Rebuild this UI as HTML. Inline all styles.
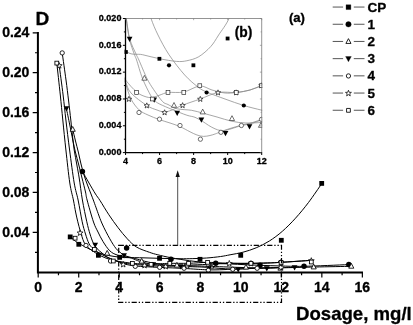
<!DOCTYPE html>
<html><head><meta charset="utf-8"><title>Chart</title>
<style>html,body{margin:0;padding:0;background:#fff}body{width:413px;height:325px;overflow:hidden}</style>
</head><body>
<svg width="413" height="325" viewBox="0 0 413 325" style="display:block">
<rect width="413" height="325" fill="#fff"/>
<g fill="none" stroke="#000" stroke-width="1.0">
<path d="M70.21 236.87 C71.63 237.95 73.99 240.70 78.72 243.36 C83.45 246.02 91.82 250.54 98.57 252.84 C105.33 255.13 112.42 256.32 119.24 257.13 C126.06 257.95 132.75 257.53 139.50 257.73 C146.25 257.93 153.01 258.16 159.76 258.33 C166.51 258.49 174.62 258.68 180.02 258.73 C185.42 258.78 187.79 258.74 192.18 258.63 C196.57 258.51 201.63 258.38 206.36 258.03 C211.09 257.68 216.59 257.07 220.54 256.53 C224.49 255.99 226.31 255.52 230.06 254.80 C233.81 254.07 238.67 253.37 243.03 252.20 C247.38 251.03 251.81 249.67 256.20 247.80 C260.59 245.93 265.01 243.75 269.37 241.00 C273.72 238.25 277.98 235.10 282.33 231.30 C286.69 227.50 291.15 223.00 295.50 218.20 C299.86 213.40 304.08 208.29 308.47 202.50 C312.86 196.71 319.61 186.65 321.84 183.48"/>
<path d="M82.40 171.30 C83.50 173.25 86.82 179.22 89.00 183.00 C91.18 186.78 93.67 191.08 95.50 194.00 C97.33 196.92 97.77 197.03 100.00 200.50 C102.23 203.97 105.88 210.27 108.90 214.80 C111.92 219.33 115.03 223.70 118.10 227.70 C121.17 231.70 124.22 235.57 127.30 238.80 C130.38 242.03 132.89 244.85 136.60 247.10 C140.31 249.35 145.99 251.04 149.53 252.33 C153.08 253.61 154.30 253.90 157.87 254.80 C161.44 255.70 165.66 256.74 170.96 257.73 C176.26 258.72 183.90 259.95 189.65 260.75 C195.40 261.55 201.14 262.11 205.48 262.54 C209.83 262.96 210.36 262.98 215.72 263.28 C221.08 263.58 230.24 263.99 237.62 264.32 C245.00 264.66 252.86 265.02 260.00 265.29 C267.14 265.56 273.21 265.79 280.47 265.96 C287.74 266.13 292.32 266.54 303.61 266.31 C314.89 266.09 340.75 264.90 348.18 264.62"/>
<path d="M72.70 129.40 C73.17 131.33 74.57 137.23 75.50 141.00 C76.43 144.77 77.38 148.17 78.30 152.00 C79.22 155.83 80.05 160.17 81.00 164.00 C81.95 167.83 82.92 171.50 84.00 175.00 C85.08 178.50 86.33 181.83 87.50 185.00 C88.67 188.17 90.03 191.50 91.00 194.00 C91.97 196.50 92.58 198.08 93.30 200.00 C94.02 201.92 93.88 201.67 95.30 205.50 C96.72 209.33 99.38 217.45 101.80 223.00 C104.22 228.55 107.43 234.55 109.80 238.80 C112.17 243.05 114.26 246.24 116.00 248.50 C117.74 250.76 118.87 251.22 120.25 252.37 C121.63 253.52 122.39 254.52 124.30 255.39 C126.20 256.27 129.87 257.10 131.68 257.62 C133.48 258.14 132.95 257.91 135.13 258.52 C137.31 259.12 141.86 260.54 144.77 261.27 C147.69 262.00 149.55 262.34 152.63 262.91 C155.70 263.48 160.37 264.32 163.22 264.69 C166.08 265.07 166.85 264.96 169.77 265.14 C172.69 265.32 176.04 265.64 180.72 265.78 C185.40 265.92 192.74 265.89 197.86 266.00 C202.98 266.11 206.39 266.27 211.43 266.44 C216.47 266.60 222.35 266.80 228.10 267.00 C233.85 267.20 240.24 267.49 245.95 267.64 C251.67 267.79 256.49 267.86 262.38 267.89 C268.27 267.92 272.55 267.97 281.31 267.82 C290.07 267.67 303.30 267.26 314.95 267.01 C326.60 266.76 345.17 266.43 351.22 266.31"/>
<path d="M66.40 108.50 C66.97 111.25 68.73 119.75 69.80 125.00 C70.87 130.25 71.87 135.50 72.80 140.00 C73.73 144.50 74.40 147.83 75.40 152.00 C76.40 156.17 77.70 160.67 78.80 165.00 C79.90 169.33 80.88 173.50 82.00 178.00 C83.12 182.50 84.65 188.33 85.50 192.00 C86.35 195.67 85.77 195.00 87.10 200.00 C88.43 205.00 91.68 216.67 93.50 222.00 C95.32 227.33 96.42 228.75 98.00 232.00 C99.58 235.25 101.03 238.37 103.00 241.50 C104.97 244.63 107.43 248.55 109.80 250.80 C112.17 253.05 113.91 253.86 117.20 255.00 C120.49 256.14 127.00 257.04 129.54 257.62 C132.07 258.21 130.75 257.91 132.39 258.52 C134.04 259.12 136.62 260.39 139.42 261.27 C142.21 262.15 146.82 263.26 149.18 263.80 C151.54 264.35 151.82 264.33 153.58 264.55 C155.35 264.76 156.20 264.84 159.77 265.07 C163.34 265.29 169.61 265.62 175.01 265.90 C180.40 266.18 187.67 266.54 192.15 266.73 C196.63 266.92 198.74 266.89 201.91 267.05 C205.09 267.20 208.50 267.47 211.20 267.67 C213.89 267.87 215.68 268.07 218.10 268.25 C220.52 268.43 223.38 268.63 225.72 268.76 C228.06 268.88 229.96 268.97 232.15 269.01 C234.33 269.05 236.31 269.04 238.81 268.98 C241.31 268.92 244.21 268.78 247.14 268.67 C250.08 268.56 252.54 268.44 256.43 268.31 C260.32 268.19 266.33 268.07 270.48 267.92 C274.62 267.78 277.31 267.50 281.31 267.43 C285.31 267.36 292.29 267.50 294.49 267.51"/>
<path d="M62.20 52.90 C62.83 57.42 64.95 72.15 66.00 80.00 C67.05 87.85 67.70 93.33 68.50 100.00 C69.30 106.67 70.15 114.17 70.80 120.00 C71.45 125.83 71.83 130.00 72.40 135.00 C72.97 140.00 73.45 145.00 74.20 150.00 C74.95 155.00 76.07 160.33 76.90 165.00 C77.73 169.67 78.28 172.17 79.20 178.00 C80.12 183.83 81.13 192.70 82.40 200.00 C83.67 207.30 85.53 216.13 86.80 221.80 C88.07 227.47 88.92 230.47 90.00 234.00 C91.08 237.53 92.13 240.58 93.30 243.00 C94.47 245.42 95.55 246.83 97.00 248.50 C98.45 250.17 100.17 251.50 102.00 253.00 C103.83 254.50 105.12 255.99 108.00 257.50 C110.88 259.01 116.34 260.95 119.30 262.09 C122.25 263.23 123.07 263.68 125.73 264.32 C128.39 264.96 131.88 265.53 135.25 265.93 C138.62 266.33 141.92 266.46 145.96 266.70 C150.01 266.95 155.17 267.19 159.53 267.39 C163.90 267.59 168.06 267.72 172.15 267.89 C176.24 268.07 180.09 268.21 184.06 268.43 C188.02 268.65 192.59 269.00 195.96 269.20 C199.33 269.41 201.61 269.57 204.29 269.68 C206.97 269.79 209.45 269.88 212.03 269.89 C214.61 269.90 217.43 269.82 219.77 269.75 C222.11 269.69 224.01 269.61 226.08 269.52 C228.14 269.43 229.23 269.35 232.15 269.22 C235.06 269.08 239.53 268.87 243.57 268.71 C247.62 268.55 251.95 268.40 256.43 268.25 C260.91 268.10 266.33 267.97 270.48 267.82 C274.62 267.67 279.50 267.44 281.31 267.36"/>
<path d="M59.20 65.50 C59.85 70.42 61.98 85.92 63.10 95.00 C64.22 104.08 64.82 110.83 65.90 120.00 C66.98 129.17 68.22 139.50 69.60 150.00 C70.98 160.50 72.78 174.67 74.20 183.00 C75.62 191.33 76.77 193.53 78.10 200.00 C79.43 206.47 80.97 216.13 82.20 221.80 C83.43 227.47 84.37 230.37 85.50 234.00 C86.63 237.63 87.75 241.18 89.00 243.60 C90.25 246.02 91.17 246.85 93.00 248.50 C94.83 250.15 97.17 251.83 100.00 253.50 C102.83 255.17 106.78 257.12 110.00 258.50 C113.22 259.88 116.68 260.97 119.30 261.79 C121.92 262.61 121.52 262.85 125.73 263.43 C129.93 264.01 139.38 264.87 144.54 265.29 C149.69 265.71 153.19 265.80 156.68 265.96 C160.17 266.12 162.51 266.26 165.49 266.26 C168.46 266.26 170.88 266.13 174.53 265.96 C178.18 265.79 181.79 265.50 187.39 265.23 C192.98 264.96 201.12 264.63 208.10 264.32 C215.08 264.01 222.15 263.52 229.29 263.35 C236.43 263.19 244.61 263.42 250.95 263.35 C257.30 263.29 262.46 263.14 267.38 262.98 C272.30 262.82 273.09 262.83 280.47 262.39 C287.86 261.94 306.50 260.67 311.71 260.32"/>
<path d="M56.80 63.10 C57.38 68.42 59.30 85.52 60.30 95.00 C61.30 104.48 61.87 110.83 62.80 120.00 C63.73 129.17 64.73 139.50 65.90 150.00 C67.07 160.50 68.55 174.67 69.80 183.00 C71.05 191.33 72.43 195.17 73.40 200.00 C74.37 204.83 74.87 208.37 75.60 212.00 C76.33 215.63 77.02 218.63 77.80 221.80 C78.58 224.97 79.28 227.63 80.30 231.00 C81.32 234.37 82.62 239.25 83.90 242.00 C85.18 244.75 86.65 246.08 88.00 247.50 C89.35 248.92 90.00 249.17 92.00 250.50 C94.00 251.83 97.00 254.00 100.00 255.50 C103.00 257.00 106.78 258.50 110.00 259.50 C113.22 260.50 115.57 260.86 119.30 261.49 C123.03 262.12 128.54 262.87 132.39 263.28 C136.24 263.69 139.28 263.81 142.39 263.95 C145.51 264.09 148.11 264.14 151.08 264.10 C154.06 264.06 157.13 263.85 160.25 263.73 C163.36 263.60 165.05 263.43 169.77 263.35 C174.49 263.28 182.27 263.44 188.58 263.28 C194.89 263.12 202.03 262.44 207.62 262.39 C213.22 262.34 217.15 262.81 222.15 262.98 C227.15 263.16 232.82 263.37 237.62 263.43 C242.42 263.49 245.99 263.43 250.95 263.35 C255.91 263.28 262.46 263.15 267.38 262.98 C272.30 262.81 273.09 262.79 280.47 262.34 C287.86 261.90 306.50 260.66 311.71 260.32"/>
</g>
<rect x="67.80" y="234.50" width="4.80" height="4.80" fill="#000"/>
<rect x="76.40" y="241.90" width="4.80" height="4.80" fill="#000"/>
<rect x="96.00" y="252.90" width="4.80" height="4.80" fill="#000"/>
<rect x="117.26" y="254.93" width="4.80" height="4.80" fill="#000"/>
<rect x="157.13" y="255.94" width="4.80" height="4.80" fill="#000"/>
<rect x="197.61" y="256.91" width="4.80" height="4.80" fill="#000"/>
<rect x="238.32" y="252.92" width="4.80" height="4.80" fill="#000"/>
<rect x="278.90" y="237.90" width="4.80" height="4.80" fill="#000"/>
<rect x="319.30" y="181.00" width="4.80" height="4.80" fill="#000"/>
<circle cx="82.40" cy="171.40" r="2.75" fill="#000"/>
<circle cx="126.60" cy="247.90" r="2.75" fill="#000"/>
<circle cx="170.96" cy="259.31" r="2.75" fill="#000"/>
<circle cx="215.72" cy="263.35" r="2.75" fill="#000"/>
<circle cx="260.00" cy="265.29" r="2.75" fill="#000"/>
<circle cx="304.00" cy="266.30" r="2.75" fill="#000"/>
<circle cx="348.80" cy="264.60" r="2.75" fill="#000"/>
<path d="M72.70 126.50 L75.25 131.30 L70.15 131.30 Z" fill="#fff" stroke="#000" stroke-width="0.85"/>
<path d="M107.20 250.40 L109.75 255.20 L104.65 255.20 Z" fill="#fff" stroke="#000" stroke-width="0.85"/>
<path d="M141.68 258.34 L144.23 263.14 L139.13 263.14 Z" fill="#fff" stroke="#000" stroke-width="0.85"/>
<path d="M176.91 262.37 L179.46 267.17 L174.36 267.17 Z" fill="#fff" stroke="#000" stroke-width="0.85"/>
<path d="M211.08 263.36 L213.63 268.16 L208.53 268.16 Z" fill="#fff" stroke="#000" stroke-width="0.85"/>
<path d="M245.95 264.34 L248.50 269.14 L243.40 269.14 Z" fill="#fff" stroke="#000" stroke-width="0.85"/>
<path d="M280.47 265.35 L283.02 270.15 L277.92 270.15 Z" fill="#fff" stroke="#000" stroke-width="0.85"/>
<path d="M313.70 264.10 L316.25 268.90 L311.15 268.90 Z" fill="#fff" stroke="#000" stroke-width="0.85"/>
<path d="M351.30 263.40 L353.85 268.20 L348.75 268.20 Z" fill="#fff" stroke="#000" stroke-width="0.85"/>
<path d="M66.50 111.50 L69.35 106.30 L63.65 106.30 Z" fill="#000"/>
<path d="M95.20 247.90 L98.05 242.70 L92.35 242.70 Z" fill="#000"/>
<path d="M124.06 258.39 L126.91 253.19 L121.21 253.19 Z" fill="#000"/>
<path d="M153.34 267.43 L156.19 262.23 L150.49 262.23 Z" fill="#000"/>
<path d="M180.72 269.39 L183.57 264.19 L177.87 264.19 Z" fill="#000"/>
<path d="M209.53 270.40 L212.38 265.20 L206.68 265.20 Z" fill="#000"/>
<path d="M238.22 272.43 L241.07 267.23 L235.37 267.23 Z" fill="#000"/>
<path d="M266.79 271.40 L269.64 266.20 L263.94 266.20 Z" fill="#000"/>
<path d="M294.60 270.50 L297.45 265.30 L291.75 265.30 Z" fill="#000"/>
<circle cx="62.20" cy="52.90" r="2.15" fill="#fff" stroke="#000" stroke-width="0.85"/>
<circle cx="86.00" cy="245.40" r="2.15" fill="#fff" stroke="#000" stroke-width="0.85"/>
<circle cx="110.50" cy="261.00" r="2.15" fill="#fff" stroke="#000" stroke-width="0.85"/>
<circle cx="135.25" cy="266.33" r="2.15" fill="#fff" stroke="#000" stroke-width="0.85"/>
<circle cx="159.65" cy="267.33" r="2.15" fill="#fff" stroke="#000" stroke-width="0.85"/>
<circle cx="184.06" cy="268.27" r="2.15" fill="#fff" stroke="#000" stroke-width="0.85"/>
<circle cx="208.34" cy="270.31" r="2.15" fill="#fff" stroke="#000" stroke-width="0.85"/>
<circle cx="232.74" cy="269.28" r="2.15" fill="#fff" stroke="#000" stroke-width="0.85"/>
<circle cx="257.14" cy="268.27" r="2.15" fill="#fff" stroke="#000" stroke-width="0.85"/>
<circle cx="281.07" cy="267.36" r="2.15" fill="#fff" stroke="#000" stroke-width="0.85"/>
<path d="M59.20 62.60 L59.96 64.65 L62.15 64.74 L60.44 66.10 L61.02 68.21 L59.20 67.00 L57.38 68.21 L57.96 66.10 L56.25 64.74 L58.44 64.65 Z" fill="#fff" stroke="#000" stroke-width="0.75"/>
<path d="M80.10 229.90 L80.86 231.95 L83.05 232.04 L81.34 233.40 L81.92 235.51 L80.10 234.30 L78.28 235.51 L78.86 233.40 L77.15 232.04 L79.34 231.95 Z" fill="#fff" stroke="#000" stroke-width="0.75"/>
<path d="M123.23 261.42 L123.99 263.47 L126.18 263.56 L124.46 264.92 L125.05 267.03 L123.23 265.82 L121.41 267.03 L121.99 264.92 L120.28 263.56 L122.46 263.47 Z" fill="#fff" stroke="#000" stroke-width="0.75"/>
<path d="M144.54 262.39 L145.30 264.44 L147.48 264.53 L145.77 265.89 L146.36 268.00 L144.54 266.79 L142.71 268.00 L143.30 265.89 L141.59 264.53 L143.77 264.44 Z" fill="#fff" stroke="#000" stroke-width="0.75"/>
<path d="M165.72 263.42 L166.49 265.46 L168.67 265.56 L166.96 266.92 L167.55 269.02 L165.72 267.82 L163.90 269.02 L164.49 266.92 L162.78 265.56 L164.96 265.46 Z" fill="#fff" stroke="#000" stroke-width="0.75"/>
<path d="M187.15 262.36 L187.91 264.41 L190.10 264.50 L188.39 265.86 L188.97 267.97 L187.15 266.76 L185.33 267.97 L185.91 265.86 L184.20 264.50 L186.39 264.41 Z" fill="#fff" stroke="#000" stroke-width="0.75"/>
<path d="M208.22 261.42 L208.98 263.47 L211.17 263.56 L209.46 264.92 L210.04 267.03 L208.22 265.82 L206.40 267.03 L206.98 264.92 L205.27 263.56 L207.46 263.47 Z" fill="#fff" stroke="#000" stroke-width="0.75"/>
<path d="M229.29 260.45 L230.05 262.50 L232.24 262.60 L230.53 263.96 L231.11 266.06 L229.29 264.85 L227.47 266.06 L228.05 263.96 L226.34 262.60 L228.53 262.50 Z" fill="#fff" stroke="#000" stroke-width="0.75"/>
<path d="M250.95 260.45 L251.72 262.50 L253.90 262.60 L252.19 263.96 L252.78 266.06 L250.95 264.85 L249.13 266.06 L249.72 263.96 L248.01 262.60 L250.19 262.50 Z" fill="#fff" stroke="#000" stroke-width="0.75"/>
<path d="M281.00 259.40 L281.76 261.45 L283.95 261.54 L282.24 262.90 L282.82 265.01 L281.00 263.80 L279.18 265.01 L279.76 262.90 L278.05 261.54 L280.24 261.45 Z" fill="#fff" stroke="#000" stroke-width="0.75"/>
<path d="M311.30 257.70 L312.06 259.75 L314.25 259.84 L312.54 261.20 L313.12 263.31 L311.30 262.10 L309.48 263.31 L310.06 261.20 L308.35 259.84 L310.54 259.75 Z" fill="#fff" stroke="#000" stroke-width="0.75"/>
<rect x="54.90" y="61.20" width="3.80" height="3.80" fill="#fff" stroke="#000" stroke-width="0.85"/>
<rect x="73.20" y="236.30" width="3.80" height="3.80" fill="#fff" stroke="#000" stroke-width="0.85"/>
<rect x="92.50" y="247.50" width="3.80" height="3.80" fill="#fff" stroke="#000" stroke-width="0.85"/>
<rect x="111.40" y="259.10" width="3.80" height="3.80" fill="#fff" stroke="#000" stroke-width="0.85"/>
<rect x="130.49" y="261.45" width="3.80" height="3.80" fill="#fff" stroke="#000" stroke-width="0.85"/>
<rect x="149.18" y="262.42" width="3.80" height="3.80" fill="#fff" stroke="#000" stroke-width="0.85"/>
<rect x="167.87" y="261.45" width="3.80" height="3.80" fill="#fff" stroke="#000" stroke-width="0.85"/>
<rect x="186.68" y="261.45" width="3.80" height="3.80" fill="#fff" stroke="#000" stroke-width="0.85"/>
<rect x="205.72" y="260.44" width="3.80" height="3.80" fill="#fff" stroke="#000" stroke-width="0.85"/>
<rect x="249.05" y="261.45" width="3.80" height="3.80" fill="#fff" stroke="#000" stroke-width="0.85"/>
<rect x="279.17" y="260.44" width="3.80" height="3.80" fill="#fff" stroke="#000" stroke-width="0.85"/>
<rect x="309.40" y="260.10" width="3.80" height="3.80" fill="#fff" stroke="#000" stroke-width="0.85"/>
<g stroke="#000" fill="none">
<path d="M37.9 32.0 V272.4 H363.0" stroke-width="2"/>
<path d="M38.20 252.34 h-3.20 M38.20 232.38 h-5.50 M38.20 212.42 h-3.20 M38.20 192.46 h-5.50 M38.20 172.50 h-3.20 M38.20 152.54 h-5.50 M38.20 132.58 h-3.20 M38.20 112.62 h-5.50 M38.20 92.66 h-3.20 M38.20 72.70 h-5.50 M38.20 52.74 h-3.20 M38.20 32.78 h-5.50 " stroke-width="1.2"/>
<path d="M38.20 272.30 v5.20 M58.46 272.30 v3.00 M78.72 272.30 v5.20 M98.98 272.30 v3.00 M119.24 272.30 v5.20 M139.50 272.30 v3.00 M159.76 272.30 v5.20 M180.02 272.30 v3.00 M200.28 272.30 v5.20 M220.54 272.30 v3.00 M240.80 272.30 v5.20 M261.06 272.30 v3.00 M281.32 272.30 v5.20 M301.58 272.30 v3.00 M321.84 272.30 v5.20 M342.10 272.30 v3.00 M362.36 272.30 v5.20 " stroke-width="1.2"/>
</g>
<g font-family="Liberation Sans, Arial, sans-serif" font-weight="bold" fill="#000" stroke="#000" stroke-width="0.3" stroke-linejoin="round">
<text x="29.4" y="236.78" font-size="14" text-anchor="end">0.04</text>
<text x="29.4" y="196.86" font-size="14" text-anchor="end">0.08</text>
<text x="29.4" y="156.94" font-size="14" text-anchor="end">0.12</text>
<text x="29.4" y="117.02" font-size="14" text-anchor="end">0.16</text>
<text x="29.4" y="77.10" font-size="14" text-anchor="end">0.20</text>
<text x="29.4" y="37.18" font-size="14" text-anchor="end">0.24</text>
<text x="38.20" y="291.7" font-size="14" text-anchor="middle">0</text>
<text x="78.72" y="291.7" font-size="14" text-anchor="middle">2</text>
<text x="119.24" y="291.7" font-size="14" text-anchor="middle">4</text>
<text x="159.76" y="291.7" font-size="14" text-anchor="middle">6</text>
<text x="200.28" y="291.7" font-size="14" text-anchor="middle">8</text>
<text x="240.80" y="291.7" font-size="14" text-anchor="middle">10</text>
<text x="281.32" y="291.7" font-size="14" text-anchor="middle">12</text>
<text x="321.84" y="291.7" font-size="14" text-anchor="middle">14</text>
<text x="362.36" y="291.7" font-size="14" text-anchor="middle">16</text>
<text x="35.6" y="24.7" font-size="19">D</text>
<text x="296" y="319.5" font-size="18.6">Dosage, mg/l</text>
<text x="288.9" y="22.1" font-size="13.2">(a)</text>
</g>
<rect x="118.7" y="245.4" width="162.8" height="57" fill="none" stroke="#000" stroke-width="1.2" stroke-dasharray="5.2 1.9 1.3 1.9 1.3 1.9"/>
<path d="M177.7 245.9 V175" stroke="#222" stroke-width="0.8" fill="none"/>
<path d="M177.7 170.2 L179.8 177 L175.6 177 Z" fill="#111"/>
<rect x="125.5" y="18.5" width="136.2" height="134.1" fill="#fff" stroke="none"/>
<clipPath id="ic"><rect x="124.5" y="18.5" width="137.7" height="134.1"/></clipPath>
<g clip-path="url(#ic)">
<g fill="none" stroke="#8a8a8a" stroke-width="0.75">
<path d="M84.36 -85.43 C85.55 -78.16 87.54 -59.73 91.51 -41.85 C95.48 -23.97 102.52 6.43 108.19 21.85 C113.86 37.27 119.82 45.21 125.55 50.68 C131.28 56.16 136.90 53.37 142.57 54.71 C148.24 56.05 153.92 57.61 159.59 58.73 C165.26 59.85 172.07 61.08 176.61 61.41 C181.15 61.75 183.13 61.52 186.82 60.74 C190.51 59.96 194.76 59.07 198.74 56.72 C202.71 54.37 207.33 50.28 210.65 46.66 C213.97 43.04 215.50 39.84 218.65 34.99 C221.80 30.14 225.88 25.39 229.54 17.56 C233.20 9.73 236.92 0.53 240.61 -12.01 C244.29 -24.55 248.01 -39.20 251.67 -57.67 C255.33 -76.14 258.90 -97.31 262.56 -122.84 C266.22 -148.38 269.96 -178.63 273.62 -210.88 C277.28 -243.13 280.83 -277.47 284.52 -316.35 C288.20 -355.23 293.88 -422.85 295.75 -444.14"/>
<path d="M147.00 4.00 C147.67 6.40 149.17 13.23 151.00 18.40 C152.83 23.57 155.00 28.95 158.00 35.00 C161.00 41.05 164.55 48.03 169.00 54.70 C173.45 61.37 179.87 69.62 184.70 75.00 C189.53 80.38 194.35 84.17 198.00 87.00 C201.65 89.83 202.10 90.00 206.60 92.00 C211.10 94.00 218.80 96.75 225.00 99.00 C231.20 101.25 237.80 103.67 243.80 105.50 C249.80 107.33 256.63 108.92 261.00 110.00 C265.37 111.08 268.50 111.67 270.00 112.00"/>
<path d="M124.50 4.00 C124.82 6.45 125.52 12.87 126.40 18.70 C127.28 24.53 128.20 33.12 129.80 39.00 C131.40 44.88 134.48 50.50 136.00 54.00 C137.52 57.50 137.07 55.92 138.90 60.00 C140.73 64.08 144.55 73.58 147.00 78.50 C149.45 83.42 151.02 85.67 153.60 89.50 C156.18 93.33 160.10 99.00 162.50 101.50 C164.90 104.00 165.55 103.28 168.00 104.50 C170.45 105.72 173.27 107.83 177.20 108.80 C181.13 109.77 187.30 109.57 191.60 110.30 C195.90 111.03 198.77 112.08 203.00 113.20 C207.23 114.32 212.17 115.65 217.00 117.00 C221.83 118.35 227.20 120.30 232.00 121.30 C236.80 122.30 240.85 122.80 245.80 123.00 C250.75 123.20 257.67 122.67 261.70 122.50 C265.73 122.33 268.62 122.08 270.00 122.00"/>
<path d="M124.30 4.00 C124.62 6.45 125.35 12.87 126.20 18.70 C127.05 24.53 128.07 33.12 129.40 39.00 C130.73 44.88 133.00 50.50 134.20 54.00 C135.40 57.50 135.22 55.92 136.60 60.00 C137.98 64.08 140.15 72.58 142.50 78.50 C144.85 84.42 148.72 91.83 150.70 95.50 C152.68 99.17 152.92 99.08 154.40 100.50 C155.88 101.92 156.60 102.48 159.60 104.00 C162.60 105.52 167.87 107.73 172.40 109.60 C176.93 111.47 183.03 113.92 186.80 115.20 C190.57 116.48 192.33 116.25 195.00 117.30 C197.67 118.35 200.53 120.15 202.80 121.50 C205.07 122.85 206.57 124.18 208.60 125.40 C210.63 126.62 213.03 127.95 215.00 128.80 C216.97 129.65 218.57 130.25 220.40 130.50 C222.23 130.75 223.90 130.68 226.00 130.30 C228.10 129.92 230.53 128.95 233.00 128.20 C235.47 127.45 237.53 126.63 240.80 125.80 C244.07 124.97 249.12 124.18 252.60 123.20 C256.08 122.22 258.80 120.60 261.70 119.90 C264.60 119.20 268.62 119.15 270.00 119.00"/>
<path d="M121.00 74.00 C121.77 75.67 123.93 79.83 125.60 84.00 C127.27 88.17 128.77 94.70 131.00 99.00 C133.23 103.30 136.17 107.13 139.00 109.80 C141.83 112.47 144.60 113.37 148.00 115.00 C151.40 116.63 155.73 118.27 159.40 119.60 C163.07 120.93 166.57 121.83 170.00 123.00 C173.43 124.17 176.67 125.13 180.00 126.60 C183.33 128.07 187.17 130.40 190.00 131.80 C192.83 133.20 194.75 134.23 197.00 135.00 C199.25 135.77 201.33 136.32 203.50 136.40 C205.67 136.48 208.03 135.92 210.00 135.50 C211.97 135.08 213.57 134.50 215.30 133.90 C217.03 133.30 217.95 132.80 220.40 131.90 C222.85 131.00 226.60 129.58 230.00 128.50 C233.40 127.42 237.03 126.40 240.80 125.40 C244.57 124.40 249.12 123.50 252.60 122.50 C256.08 121.50 258.80 120.32 261.70 119.40 C264.60 118.48 268.62 117.40 270.00 117.00"/>
<path d="M121.00 72.00 C121.77 73.67 123.93 78.50 125.60 82.00 C127.27 85.50 127.47 89.08 131.00 93.00 C134.53 96.92 142.47 102.67 146.80 105.50 C151.13 108.33 154.07 108.92 157.00 110.00 C159.93 111.08 161.90 112.00 164.40 112.00 C166.90 112.00 168.93 111.15 172.00 110.00 C175.07 108.85 178.10 106.93 182.80 105.10 C187.50 103.27 194.33 101.10 200.20 99.00 C206.07 96.90 212.00 93.58 218.00 92.50 C224.00 91.42 230.87 92.92 236.20 92.50 C241.53 92.08 245.87 91.08 250.00 90.00 C254.13 88.92 257.67 87.08 261.00 86.00 C264.33 84.92 268.50 83.92 270.00 83.50"/>
<path d="M120.00 69.00 C120.93 70.83 122.83 76.17 125.60 80.00 C128.37 83.83 133.37 89.25 136.60 92.00 C139.83 94.75 142.38 95.58 145.00 96.50 C147.62 97.42 149.80 97.75 152.30 97.50 C154.80 97.25 157.38 95.83 160.00 95.00 C162.62 94.17 164.03 93.00 168.00 92.50 C171.97 92.00 178.50 93.08 183.80 92.00 C189.10 90.92 195.10 86.33 199.80 86.00 C204.50 85.67 207.80 88.83 212.00 90.00 C216.20 91.17 220.97 92.58 225.00 93.00 C229.03 93.42 232.03 93.00 236.20 92.50 C240.37 92.00 245.87 91.13 250.00 90.00 C254.13 88.87 257.67 86.87 261.00 85.70 C264.33 84.53 268.50 83.45 270.00 83.00"/>
</g>
<rect x="124.00" y="50.10" width="3.80" height="3.80" fill="#000"/>
<rect x="157.50" y="56.90" width="3.80" height="3.80" fill="#000"/>
<rect x="191.50" y="63.40" width="3.80" height="3.80" fill="#000"/>
<rect x="225.70" y="36.60" width="3.80" height="3.80" fill="#000"/>
<circle cx="169.00" cy="65.30" r="2.10" fill="#000"/>
<circle cx="206.60" cy="92.50" r="2.10" fill="#000"/>
<circle cx="243.80" cy="105.50" r="2.10" fill="#000"/>
<path d="M144.40 75.40 L146.95 80.20 L141.85 80.20 Z" fill="#fff" stroke="#222" stroke-width="0.65"/>
<path d="M174.00 102.50 L176.55 107.30 L171.45 107.30 Z" fill="#fff" stroke="#222" stroke-width="0.65"/>
<path d="M202.70 109.10 L205.25 113.90 L200.15 113.90 Z" fill="#fff" stroke="#222" stroke-width="0.65"/>
<path d="M232.00 115.70 L234.55 120.50 L229.45 120.50 Z" fill="#fff" stroke="#222" stroke-width="0.65"/>
<path d="M261.00 122.50 L263.55 127.30 L258.45 127.30 Z" fill="#fff" stroke="#222" stroke-width="0.65"/>
<path d="M129.60 42.00 L132.45 36.80 L126.75 36.80 Z" fill="#000"/>
<path d="M154.20 102.70 L157.05 97.50 L151.35 97.50 Z" fill="#000"/>
<path d="M177.20 115.90 L180.05 110.70 L174.35 110.70 Z" fill="#000"/>
<path d="M201.40 122.70 L204.25 117.50 L198.55 117.50 Z" fill="#000"/>
<path d="M225.50 136.30 L228.35 131.10 L222.65 131.10 Z" fill="#000"/>
<path d="M249.50 129.40 L252.35 124.20 L246.65 124.20 Z" fill="#000"/>
<circle cx="139.00" cy="112.50" r="2.15" fill="#fff" stroke="#222" stroke-width="0.65"/>
<circle cx="159.50" cy="119.20" r="2.15" fill="#fff" stroke="#222" stroke-width="0.65"/>
<circle cx="180.00" cy="125.50" r="2.15" fill="#fff" stroke="#222" stroke-width="0.65"/>
<circle cx="200.40" cy="139.20" r="2.15" fill="#fff" stroke="#222" stroke-width="0.65"/>
<circle cx="220.90" cy="132.30" r="2.15" fill="#fff" stroke="#222" stroke-width="0.65"/>
<circle cx="241.40" cy="125.50" r="2.15" fill="#fff" stroke="#222" stroke-width="0.65"/>
<circle cx="261.50" cy="119.40" r="2.15" fill="#fff" stroke="#222" stroke-width="0.65"/>
<path d="M128.90 96.35 L129.61 98.23 L131.61 98.32 L130.04 99.57 L130.58 101.51 L128.90 100.40 L127.22 101.51 L127.76 99.57 L126.19 98.32 L128.19 98.23 Z" fill="#fff" stroke="#222" stroke-width="0.75"/>
<path d="M146.80 102.85 L147.51 104.73 L149.51 104.82 L147.94 106.07 L148.48 108.01 L146.80 106.90 L145.12 108.01 L145.66 106.07 L144.09 104.82 L146.09 104.73 Z" fill="#fff" stroke="#222" stroke-width="0.75"/>
<path d="M164.60 109.75 L165.31 111.63 L167.31 111.72 L165.74 112.97 L166.28 114.91 L164.60 113.80 L162.92 114.91 L163.46 112.97 L161.89 111.72 L163.89 111.63 Z" fill="#fff" stroke="#222" stroke-width="0.75"/>
<path d="M182.60 102.65 L183.31 104.53 L185.31 104.62 L183.74 105.87 L184.28 107.81 L182.60 106.70 L180.92 107.81 L181.46 105.87 L179.89 104.62 L181.89 104.53 Z" fill="#fff" stroke="#222" stroke-width="0.75"/>
<path d="M200.30 96.35 L201.01 98.23 L203.01 98.32 L201.44 99.57 L201.98 101.51 L200.30 100.40 L198.62 101.51 L199.16 99.57 L197.59 98.32 L199.59 98.23 Z" fill="#fff" stroke="#222" stroke-width="0.75"/>
<path d="M218.00 89.85 L218.71 91.73 L220.71 91.82 L219.14 93.07 L219.68 95.01 L218.00 93.90 L216.32 95.01 L216.86 93.07 L215.29 91.82 L217.29 91.73 Z" fill="#fff" stroke="#222" stroke-width="0.75"/>
<path d="M236.20 89.85 L236.91 91.73 L238.91 91.82 L237.34 93.07 L237.88 95.01 L236.20 93.90 L234.52 95.01 L235.06 93.07 L233.49 91.82 L235.49 91.73 Z" fill="#fff" stroke="#222" stroke-width="0.75"/>
<path d="M261.44 82.77 L262.15 84.64 L264.15 84.73 L262.58 85.99 L263.12 87.92 L261.44 86.82 L259.77 87.92 L260.30 85.99 L258.73 84.73 L260.74 84.64 Z" fill="#fff" stroke="#222" stroke-width="0.75"/>
<rect x="134.70" y="90.60" width="3.80" height="3.80" fill="#fff" stroke="#222" stroke-width="0.65"/>
<rect x="150.40" y="97.10" width="3.80" height="3.80" fill="#fff" stroke="#222" stroke-width="0.65"/>
<rect x="166.10" y="90.60" width="3.80" height="3.80" fill="#fff" stroke="#222" stroke-width="0.65"/>
<rect x="181.90" y="90.60" width="3.80" height="3.80" fill="#fff" stroke="#222" stroke-width="0.65"/>
<rect x="197.90" y="83.80" width="3.80" height="3.80" fill="#fff" stroke="#222" stroke-width="0.65"/>
<rect x="234.30" y="90.60" width="3.80" height="3.80" fill="#fff" stroke="#222" stroke-width="0.65"/>
<rect x="259.60" y="83.80" width="3.80" height="3.80" fill="#fff" stroke="#222" stroke-width="0.65"/>
</g>
<path d="M125.5 18.5 H261.7 V152.6" fill="none" stroke="#666" stroke-width="0.7"/>
<path d="M125.5 18.1 V152.6 H262.1" fill="none" stroke="#000" stroke-width="1.3"/>
<path d="M125.5 152.60 h-2.60 M125.5 139.19 h-1.60 M125.5 125.78 h-2.60 M125.5 112.37 h-1.60 M125.5 98.96 h-2.60 M125.5 85.55 h-1.60 M125.5 72.14 h-2.60 M125.5 58.73 h-1.60 M125.5 45.32 h-2.60 M125.5 31.91 h-1.60 M125.5 18.50 h-2.60 M125.55 152.6 v2.40 M142.57 152.6 v1.50 M159.59 152.6 v2.40 M176.61 152.6 v1.50 M193.63 152.6 v2.40 M210.65 152.6 v1.50 M227.67 152.6 v2.40 M244.69 152.6 v1.50 M261.71 152.6 v2.40 " stroke="#000" stroke-width="1" fill="none"/>
<path d="M261.7 152.60 h-1.82 M261.7 139.19 h-1.12 M261.7 125.78 h-1.82 M261.7 112.37 h-1.12 M261.7 98.96 h-1.82 M261.7 85.55 h-1.12 M261.7 72.14 h-1.82 M261.7 58.73 h-1.12 M261.7 45.32 h-1.82 M261.7 31.91 h-1.12 M261.7 18.50 h-1.82 M125.55 18.5 v1.68 M142.57 18.5 v1.05 M159.59 18.5 v1.68 M176.61 18.5 v1.05 M193.63 18.5 v1.68 M210.65 18.5 v1.05 M227.67 18.5 v1.68 M244.69 18.5 v1.05 M261.71 18.5 v1.68 " stroke="#777" stroke-width="0.6" fill="none"/>
<g font-family="Liberation Sans, Arial, sans-serif" font-weight="bold" fill="#000" stroke="#000" stroke-width="0.3" stroke-linejoin="round" font-size="9">
<text x="121.4" y="154.90" text-anchor="end">0.000</text>
<text x="121.4" y="128.08" text-anchor="end">0.004</text>
<text x="121.4" y="101.26" text-anchor="end">0.008</text>
<text x="121.4" y="74.44" text-anchor="end">0.012</text>
<text x="121.4" y="47.62" text-anchor="end">0.016</text>
<text x="121.4" y="20.80" text-anchor="end">0.020</text>
<text x="125.55" y="163.6" text-anchor="middle">4</text>
<text x="159.59" y="163.6" text-anchor="middle">6</text>
<text x="193.63" y="163.6" text-anchor="middle">8</text>
<text x="227.67" y="163.6" text-anchor="middle">10</text>
<text x="261.71" y="163.6" text-anchor="middle">12</text>
</g>
<text x="234.7" y="36.5" font-size="13.8" font-family="Liberation Sans, Arial, sans-serif" font-weight="bold" fill="#000" stroke="#000" stroke-width="0.3" stroke-linejoin="round">(b)</text>
<g font-family="Liberation Sans, Arial, sans-serif" font-weight="bold" fill="#000" stroke="#000" stroke-width="0.3" stroke-linejoin="round" font-size="13.5">
<path d="M332.7 7.05 H343.1 M353.8 7.05 H364.5" stroke="#555" stroke-width="1.0" fill="none"/>
<rect x="346.05" y="4.75" width="4.80" height="4.80" fill="#000"/>
<text x="367.6" y="11.65">CP</text>
<path d="M332.7 24.25 H343.1 M353.8 24.25 H364.5" stroke="#555" stroke-width="1.0" fill="none"/>
<circle cx="348.45" cy="24.35" r="2.75" fill="#000"/>
<text x="367.6" y="28.85">1</text>
<path d="M332.7 41.45 H343.1 M353.8 41.45 H364.5" stroke="#555" stroke-width="1.0" fill="none"/>
<path d="M348.45 38.65 L351.00 43.45 L345.90 43.45 Z" fill="#fff" stroke="#000" stroke-width="0.85"/>
<text x="367.6" y="46.05">2</text>
<path d="M332.7 58.65 H343.1 M353.8 58.65 H364.5" stroke="#555" stroke-width="1.0" fill="none"/>
<path d="M348.45 61.75 L351.30 56.55 L345.60 56.55 Z" fill="#000"/>
<text x="367.6" y="63.25">3</text>
<path d="M332.7 75.85 H343.1 M353.8 75.85 H364.5" stroke="#555" stroke-width="1.0" fill="none"/>
<circle cx="348.45" cy="75.95" r="2.15" fill="#fff" stroke="#000" stroke-width="0.85"/>
<text x="367.6" y="80.45">4</text>
<path d="M332.7 93.05 H343.1 M353.8 93.05 H364.5" stroke="#555" stroke-width="1.0" fill="none"/>
<path d="M348.45 90.25 L349.21 92.30 L351.40 92.39 L349.69 93.75 L350.27 95.86 L348.45 94.65 L346.63 95.86 L347.21 93.75 L345.50 92.39 L347.69 92.30 Z" fill="#fff" stroke="#000" stroke-width="0.75"/>
<text x="367.6" y="97.65">5</text>
<path d="M332.7 110.25 H343.1 M353.8 110.25 H364.5" stroke="#555" stroke-width="1.0" fill="none"/>
<rect x="346.55" y="108.45" width="3.80" height="3.80" fill="#fff" stroke="#000" stroke-width="0.85"/>
<text x="367.6" y="114.85">6</text>
</g>
</svg>
</body></html>
